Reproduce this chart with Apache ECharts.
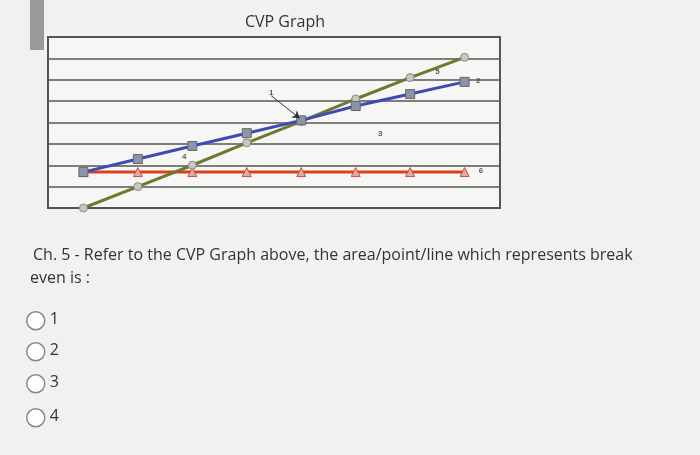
<!DOCTYPE html><html><head><meta charset="utf-8">
<script src="https://cdn.jsdelivr.net/npm/echarts@6/dist/echarts.min.js"></script>
<style>html,body{margin:0;background:#f1f1ef}#c{width:700px;height:455px}</style></head><body><div id="c"></div><script>
const xs=[0,1,2,3,4,5,6,7];
const totalCost=[1.68,2.29,2.9,3.5,4.1,4.77,5.33,5.9];
const revenue=[0,1,2,3.05,4.05,5.1,6.1,7.05];
const fixedCost=[1.68,1.68,1.68,1.68,1.68,1.68,1.68,1.68];
const labelNames=['1','2','3','4','5','6'];
const labelPos=[[3.45,5.4],[7.25,5.95],[5.45,3.45],[1.85,2.4],[6.5,6.35],[7.3,1.75]];
const pair=a=>a.map((v,i)=>[xs[i],v]);
const ch=echarts.init(document.getElementById('c'));
ch.setOption({animation:false,
title:{text:'CVP Graph',left:280,top:9,textAlign:'center',textStyle:{fontFamily:'Open Sans',fontWeight:'normal',fontSize:16,color:'#333'}},
grid:{left:48,right:200,top:37,bottom:247,show:true,borderColor:'#555',borderWidth:2,backgroundColor:'#f6f6f4'},
xAxis:{type:'value',min:-0.65,max:7.65,show:false},
yAxis:{type:'value',min:0,max:8,interval:1,axisLabel:{show:false},axisLine:{show:false},axisTick:{show:false},splitLine:{lineStyle:{color:'#555',width:1.5}}},
series:[
{type:'line',data:pair(revenue),symbol:'circle',symbolSize:8,lineStyle:{color:'#6b7a2c',width:3},itemStyle:{color:'#c8c8c0',borderColor:'#888',borderWidth:1},z:3},
{type:'line',data:pair(fixedCost),symbol:'triangle',symbolSize:9,lineStyle:{color:'#d9401c',width:3},itemStyle:{color:'#e8a89a',borderColor:'#b55',borderWidth:1},z:2},
{type:'line',data:pair(totalCost),symbol:'rect',symbolSize:9,lineStyle:{color:'#3b4db5',width:3},itemStyle:{color:'#8f93a8',borderColor:'#666',borderWidth:1},z:4,
 markLine:{silent:true,symbol:['none','arrow'],symbolSize:7,label:{show:false},lineStyle:{color:'#333',width:1,type:'solid'},data:[[{coord:[3.45,5.25]},{coord:[3.97,4.2]}]]}},
{type:'scatter',data:labelPos.map((p,i)=>({value:p,name:labelNames[i]})),symbolSize:0,label:{show:true,position:'inside',formatter:'{b}',fontSize:8,fontWeight:'bold',color:'#333'},z:5}
],
graphic:[
{type:'rect',shape:{x:30,y:0,width:14,height:50},style:{fill:'#9a9a9a'}},
{type:'text',left:33,top:247,style:{text:'Ch. 5 - Refer to the CVP Graph above, the area/point/line which represents break',fontSize:16,fontFamily:'Open Sans',fill:'#333'}},
{type:'text',left:30,top:270,style:{text:'even is :',fontSize:16,fontFamily:'Open Sans',fill:'#333'}},
...['1','2','3','4'].map((t,i)=>({type:'group',left:26,top:[311,342,374,408][i],children:[
 {type:'circle',shape:{cx:10,cy:10,r:9},style:{fill:'#fff',stroke:'#888',lineWidth:1.5}},
 {type:'text',x:24,y:1,style:{text:t,fontSize:16,fontFamily:'Open Sans',fill:'#333'}}]}))
]});
</script></body></html>
